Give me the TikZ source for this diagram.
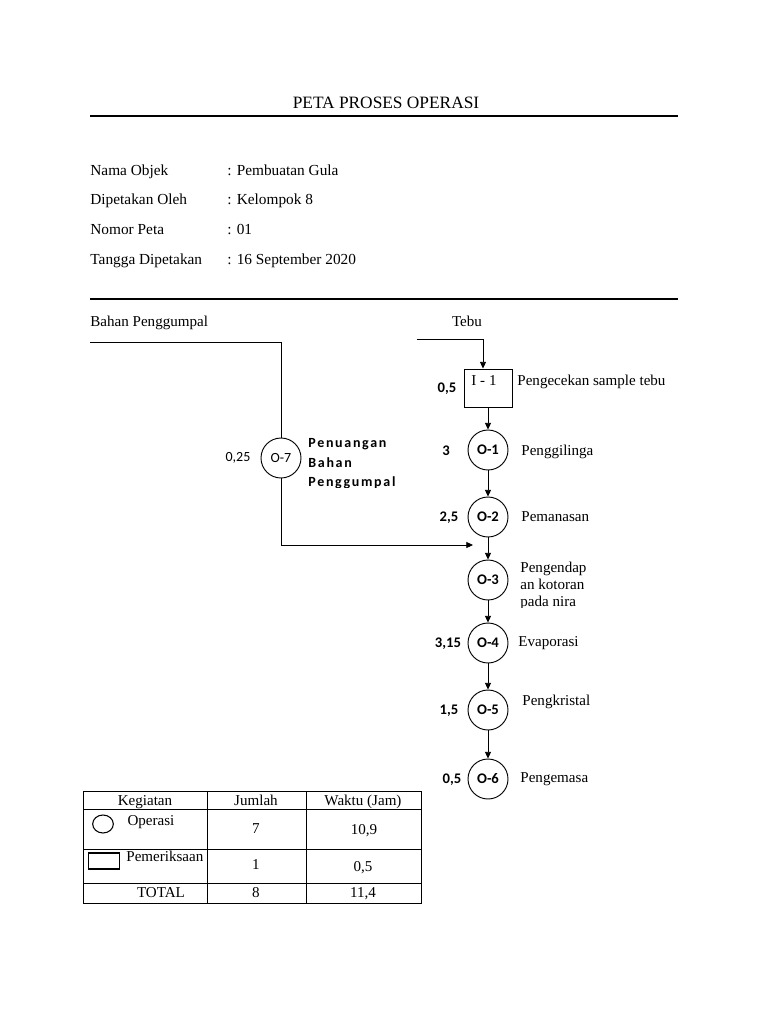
\documentclass[tikz,border=0pt]{standalone}
\usepackage{fontspec}
\setmainfont{Liberation Serif}
\newfontfamily\calibri{Carlito}
\newfontfamily\calibriwide[LetterSpace=12]{Carlito}
\usetikzlibrary{arrows.meta, positioning, shapes.geometric}
\tikzset{
  every picture/.style={line width=0.6pt},
  body/.style={font=\fontsize{11.3}{13}\selectfont, text height=8.8pt, text depth=2.4pt},
  infotext/.style={anchor=west, inner sep=0pt, font=\fontsize{11.5}{13}\selectfont, text height=8.8pt, text depth=2.4pt},
  rule/.style={line width=1.8pt},
  grid/.style={line width=0.7pt},
  opcircle/.style={draw, circle, minimum size=30pt, inner sep=0pt, line width=0.7pt, font=\calibri\bfseries\fontsize{11}{13}\selectfont},
  inspbox/.style={draw, minimum width=36pt, minimum height=28.5pt, inner sep=0pt, line width=0.7pt, font=\fontsize{11.3}{13}\selectfont, text height=7.6pt, text depth=12pt},
  timelabel/.style={font=\calibri\bfseries\fontsize{11}{13}\selectfont},
  steplabel/.style={anchor=west, align=left, inner sep=0pt, body},
  flow/.style={-{Triangle[length=5pt,width=4.5pt]}},
}
\begin{document}
\begin{tikzpicture}[x=0.75pt, y=-0.75pt]
  \useasboundingbox[fill=white] (0,0) rectangle (768,1024);
  % header
  \node[font=\fontsize{13}{15}\selectfont] (title) at (386,103) {PETA PROSES OPERASI};
  \draw[rule] (90,116) -- (678,116);
  \foreach \key/\val [count=\i] in {Nama Objek/Pembuatan Gula, Dipetakan Oleh/Kelompok 8, Nomor Peta/01, Tangga Dipetakan/16 September 2020} {
    \node[infotext] (key\i) at (90,{141.3+29.67*\i}) {\key};
    \node[infotext] (val\i) at (227,{141.3+29.67*\i}) {: \val};
  }
  \draw[rule] (90,299) -- (678,299);

  % inputs
  \node[body, anchor=west, inner sep=0pt] (bahan) at (90,322) {Bahan Penggumpal};
  \node[body] (tebu) at (467,322) {Tebu};
  \coordinate (bahanin) at (90,342);
  \coordinate (tebuin) at (417,339);
  \coordinate (tebuturn) at (483,339);
  \coordinate (merge) at (473,545);

  % side branch
  \node[opcircle, font=\calibri\fontsize{10.5}{12}\selectfont] (o7) at (281,458) {O-7};
  \node[font=\calibri\fontsize{10.5}{12}\selectfont] (t7) at (238,458) {0,25};
  \begin{scope}
    \clip (300,430) rectangle (420,487);
    \node[anchor=west, align=left, inner sep=0pt, font=\calibriwide\bfseries\fontsize{10.5}{14.6}\selectfont] (l7) at (308,464) {Penuangan\\Bahan\\Penggumpal};
  \end{scope}

  % main column
  \node[inspbox] (i1) at (488,388) {I - 1\hspace*{6pt}};
  \foreach \n/\y in {1/450, 2/517, 3/580, 4/643, 5/710, 6/779}
    \node[opcircle] (o\n) at (488,\y) {O-\n};

  \node[timelabel] (ti1) at (447,389) {0,5};
  \node[timelabel] (t1) at (446,451) {3};
  \node[timelabel] (t2) at (449,518) {2,5};
  \node[timelabel] (t4) at (448,644) {3,15};
  \node[timelabel] (t5) at (449,711) {1,5};
  \node[timelabel] (t6) at (452,780) {0,5};

  \node[steplabel] (li1) at (517,381) {Pengecekan sample tebu};
  \node[steplabel] (l1) at (521,451) {Penggilinga};
  \node[steplabel] (l2) at (521,517) {Pemanasan};
  \begin{scope}
    \clip (510,555) rectangle (620,607);
    \node[anchor=west, align=left, inner sep=0pt, font=\fontsize{11.3}{12.9}\selectfont] (l3) at (520,586) {Pengendap\\an kotoran\\pada nira};
  \end{scope}
  \node[steplabel] (l4) at (518,642) {Evaporasi};
  \node[steplabel] (l5) at (522,701) {Pengkristal};
  \node[steplabel] (l6) at (520,778) {Pengemasa};

  % connectors
  \draw (bahanin) -| (o7);
  \draw[flow] (o7) |- (merge);
  \draw[flow] (tebuin) -- (tebuturn) -- (tebuturn |- i1.north);
  \draw[flow] (i1) -- (o1);
  \foreach \a/\b in {1/2, 2/3, 3/4, 4/5, 5/6}
    \draw[flow] (o\a) -- (o\b);

  % summary table
  \draw[grid] (83,791) rectangle (421,903);
  \foreach \y in {809, 849, 883}
    \draw[grid] (83,\y) -- (421,\y);
  \foreach \x in {207, 306}
    \draw[grid] (\x,791) -- (\x,903);
  \node[body] (hkeg) at (145,801) {Kegiatan};
  \node[body] (hjml) at (256,801) {Jumlah};
  \node[body] (hwkt) at (363,801) {Waktu (Jam)};
  \node[draw, ellipse, minimum width=15.5pt, minimum height=13.5pt, inner sep=0pt, line width=0.8pt] (legop) at (103,824) {};
  \node[body] (rop) at (151,821) {Operasi};
  \node[body] (nop) at (256,829) {7};
  \node[body] (wop) at (364,830) {10,9};
  \node[draw, minimum width=23pt, minimum height=12pt, inner sep=0pt, line width=0.8pt] (legin) at (104,861) {};
  \node[body, anchor=west, inner sep=0pt] (rin) at (126,857) {Pemeriksaan};
  \node[body] (nin) at (256,865) {1};
  \node[body] (win) at (363,867) {0,5};
  \node[body] (rtot) at (161,893) {TOTAL};
  \node[body] (ntot) at (256,893) {8};
  \node[body] (wtot) at (363,893) {11,4};
\end{tikzpicture}
\end{document}
